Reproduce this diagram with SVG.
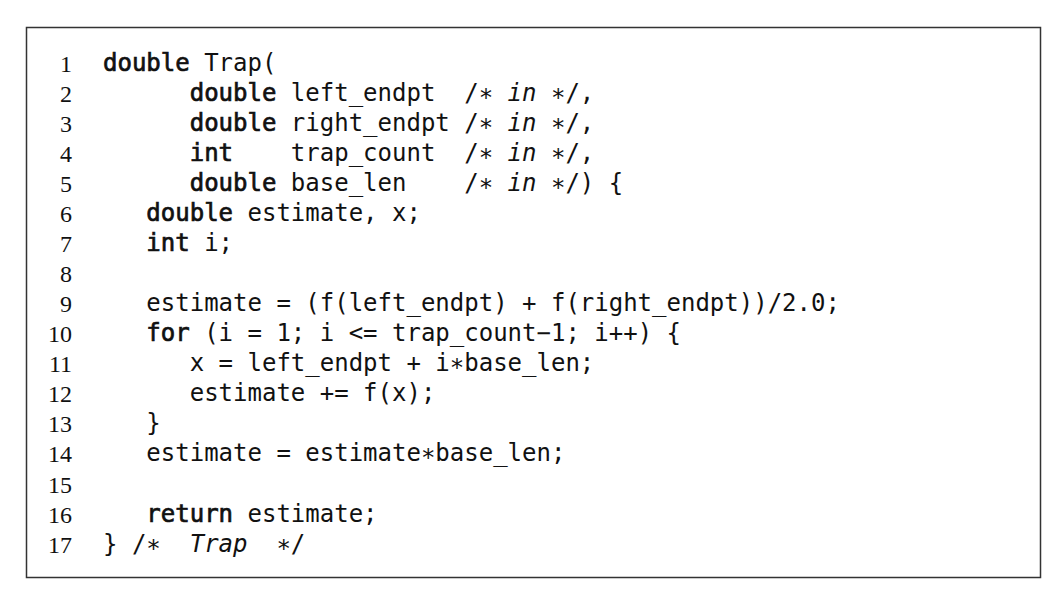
<svg xmlns="http://www.w3.org/2000/svg" width="1061" height="601" viewBox="0 0 1061 601">
<style>
.n{font-family:"Liberation Serif",serif;font-size:24px;text-anchor:end;fill:#111}
.c{font-family:"DejaVu Sans Mono",monospace;font-size:24px;fill:#111;white-space:pre}
.k{stroke:#111;stroke-width:0.7}
.i{font-style:italic}
</style>
<rect width="1061" height="601" fill="#fff"/>
<rect x="26.5" y="27.5" width="1014" height="550" fill="none" stroke="#333" stroke-width="1.5"/>
<g id="numbers">
<text class="n" x="72" y="72">1</text><text class="n" x="72" y="102">2</text><text class="n" x="72" y="132">3</text><text class="n" x="72" y="162">4</text><text class="n" x="72" y="192">5</text><text class="n" x="72" y="222">6</text><text class="n" x="72" y="252">7</text><text class="n" x="72" y="282">8</text><text class="n" x="72" y="312">9</text><text class="n" x="72" y="342">10</text><text class="n" x="72" y="372">11</text><text class="n" x="72" y="402">12</text><text class="n" x="72" y="432">13</text><text class="n" x="72" y="462">14</text><text class="n" x="72" y="493">15</text><text class="n" x="72" y="523">16</text><text class="n" x="72" y="553">17</text>
</g>
<g id="code" xml:space="preserve">
<text class="c" x="103" y="71"><tspan class="k">double</tspan> Trap(</text>
<text class="c" x="103" y="101">      <tspan class="k">double</tspan> left_endpt  /∗ <tspan class="i">in</tspan> ∗/,</text>
<text class="c" x="103" y="131">      <tspan class="k">double</tspan> right_endpt /∗ <tspan class="i">in</tspan> ∗/,</text>
<text class="c" x="103" y="161">      <tspan class="k">int</tspan>    trap_count  /∗ <tspan class="i">in</tspan> ∗/,</text>
<text class="c" x="103" y="191">      <tspan class="k">double</tspan> base_len    /∗ <tspan class="i">in</tspan> ∗/) {</text>
<text class="c" x="103" y="221">   <tspan class="k">double</tspan> estimate, x;</text>
<text class="c" x="103" y="251">   <tspan class="k">int</tspan> i;</text>
<text class="c" x="103" y="311">   estimate = (f(left_endpt) + f(right_endpt))/2.0;</text>
<text class="c" x="103" y="341">   <tspan class="k">for</tspan> (i = 1; i &lt;= trap_count−1; i++) {</text>
<text class="c" x="103" y="371">      x = left_endpt + i∗base_len;</text>
<text class="c" x="103" y="401">      estimate += f(x);</text>
<text class="c" x="103" y="431">   }</text>
<text class="c" x="103" y="461">   estimate = estimate∗base_len;</text>
<text class="c" x="103" y="522">   <tspan class="k">return</tspan> estimate;</text>
<text class="c" x="103" y="552">} /∗  <tspan class="i">Trap</tspan>  ∗/</text>
</g>
</svg>
